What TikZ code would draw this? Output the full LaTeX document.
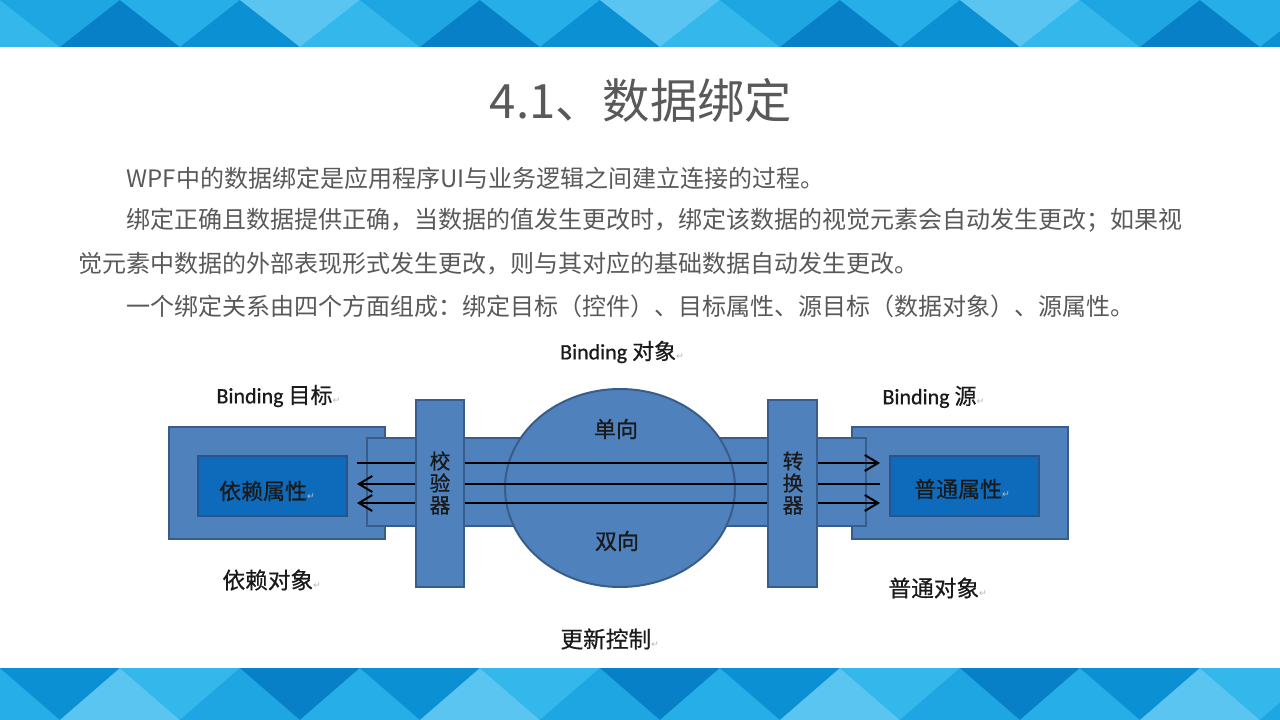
\documentclass[tikz,border=0pt]{standalone}
\usepackage{fontspec}
\setmainfont{Noto Sans CJK SC}
\newfontfamily\labelfont[FakeBold=0.6]{Noto Sans CJK SC}
\newfontfamily\carlito[FakeBold=0.6]{Carlito}
\newfontfamily\dejavu{DejaVu Sans}
\usetikzlibrary{arrows.meta}

\definecolor{slidegray}{RGB}{89,89,89}
\definecolor{objblue}{RGB}{79,129,189}
\definecolor{objedge}{RGB}{56,93,138}
\definecolor{propblue}{RGB}{14,106,186}
\definecolor{propedge}{RGB}{40,84,140}
\definecolor{labelink}{RGB}{26,26,26}
\definecolor{band0}{RGB}{8,128,200}
\definecolor{band1}{RGB}{30,166,226}
\definecolor{band2}{RGB}{52,184,236}
\definecolor{band3}{RGB}{90,197,240}
\definecolor{band4}{RGB}{12,144,212}
\definecolor{band5}{RGB}{38,174,232}

\newcommand{\pmark}{{\color{gray!55}\dejavu\fontsize{7}{7}\selectfont ↵}}

\tikzset{every picture/.style={line width=0.75pt},
  objbox/.style={fill=objblue, draw=objedge, line width=1.5},
  propbox/.style={fill=propblue, draw=propedge, line width=1.5},
  flow/.style={draw=black, line width=1.5},
  barb/.tip={Straight Barb[length=10pt,width=12pt,line width=1.5pt]},
  para/.style={anchor=west, inner sep=0, text=slidegray, font=\fontsize{18}{22}\selectfont},
  tag/.style={inner sep=0.75pt, text=labelink, font=\labelfont\fontsize{16.5}{20}\selectfont},
  inlabel/.style={inner sep=0.75pt, text=labelink, font=\labelfont\fontsize{16.5}{20}\selectfont},
  vlabel/.style={inner sep=0.75pt, text=labelink, align=center, font=\labelfont\fontsize{15.5}{16.5}\selectfont}}

\begin{document}
\begin{tikzpicture}[x=0.75pt,y=0.75pt,yscale=-1,xscale=1]
\useasboundingbox (0,0) rectangle (1280,720);
\fill[white] (0,0) rectangle (1280,720);

%Shape: Triangle bands, top and bottom
\begin{scope}
\clip (0,0) rectangle (1280,720);
\foreach \ya/\yb/\off in {0/47/2, 668/720/5}{
  \fill[band1] (0,\ya) rectangle (1280,\yb);
  \foreach \i in {0,...,22}{
    \pgfmathtruncatemacro\k{mod(\i*5+\off,6)}
    \pgfmathtruncatemacro\up{mod(\i,2)}
    \ifnum\up=0
      \fill[band\k] (\i*60-60,\yb) -- (\i*60,\ya) -- (\i*60+60,\yb) -- cycle;
    \else
      \fill[band\k] (\i*60-60,\ya) -- (\i*60,\yb) -- (\i*60+60,\ya) -- cycle;
    \fi
  }
}
\end{scope}

% Text Node
\node[text=slidegray, font=\fontsize{35.5}{42}\selectfont] (title) at (641,100) {4.1、数据绑定};
% Text Node
\node[para] (p1) at (126,178) {WPF中的数据绑定是应用程序UI与业务逻辑之间建立连接的过程。};
% Text Node
\node[para] (p2) at (126,220) {绑定正确且数据提供正确，当数据的值发生更改时，绑定该数据的视觉元素会自动发生更改；如果视};
% Text Node
\node[para] (p3) at (78,264) {觉元素中数据的外部表现形式发生更改，则与其对应的基础数据自动发生更改。};
% Text Node
\node[para] (p4) at (126,306) {一个绑定关系由四个方面组成：绑定目标（控件）、目标属性、源目标（数据对象）、源属性。};

%Shape: Rectangle [target object]
\draw[objbox] (169,427) rectangle (385,539);
%Shape: Rectangle [source object]
\draw[objbox] (852,427) rectangle (1068,539);
%Shape: Rectangle [target property]
\draw[propbox] (198,456) rectangle (347,516);
%Shape: Rectangle [source property]
\draw[propbox] (890,456) rectangle (1039,516);
%Shape: Rectangle [channel]
\draw[objbox] (367,438) rectangle (866,526);
%Shape: Ellipse [binding object]
\draw[objbox] (620,488) ellipse (115 and 99);

%Straight Lines
\coordinate (w1) at (357,463); \coordinate (e1) at (880,463);
\coordinate (w2) at (357,484); \coordinate (e2) at (880,484);
\coordinate (w3) at (357,503); \coordinate (e3) at (880,503);
\draw[flow, -barb] (w1) -- (e1);
\draw[flow, barb-] (w2) -- (e2);
\draw[flow, barb-barb] (w3) -- (e3);

%Shape: Rectangle [validator]
\draw[objbox] (416,400) rectangle (464,587);
%Shape: Rectangle [converter]
\draw[objbox] (768,400) rectangle (817,587);

% Text Node
\node[tag, anchor=west] (tgt) at (215,396) {{\carlito Binding} 目标\pmark};
% Text Node
\node[tag] (bobj) at (622,352) {{\carlito Binding} 对象\pmark};
% Text Node
\node[tag, anchor=west] (src) at (881,397) {{\carlito Binding} 源\pmark};
% Text Node
\node[inlabel] (tprop) at (267,491) {依赖属性\pmark};
% Text Node
\node[inlabel] (sprop) at (962,489) {普通属性\pmark};
% Text Node
\node[inlabel] (oneway) at (616,429) {单向};
% Text Node
\node[inlabel] (twoway) at (617,541) {双向};
% Text Node
\node[vlabel] (valid) at (440,483) {校\\验\\器};
% Text Node
\node[vlabel] (conv) at (793,483) {转\\换\\器};
% Text Node
\node[inlabel, anchor=west, font=\labelfont\fontsize{17}{20}\selectfont] (tobj) at (221,580) {依赖对象\pmark};
% Text Node
\node[inlabel, anchor=west, font=\labelfont\fontsize{17}{20}\selectfont] (sobj) at (887,588) {普通对象\pmark};
% Text Node
\node[inlabel, anchor=west, font=\labelfont\fontsize{17}{20}\selectfont] (update) at (559,639) {更新控制\pmark};

\end{tikzpicture}
\end{document}
